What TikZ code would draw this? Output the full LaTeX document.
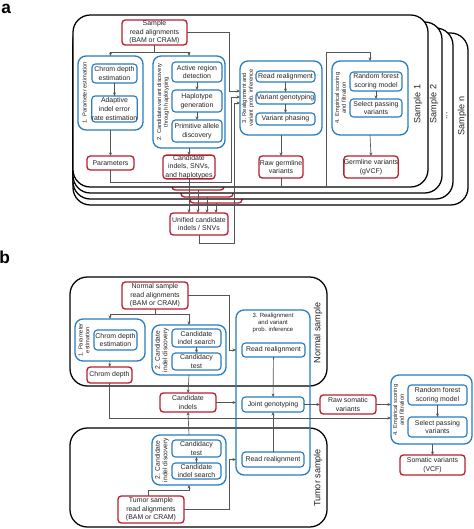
\documentclass[tikz,border=0pt]{standalone}
\usepackage{fontspec}
\setmainfont{Liberation Sans}
\usetikzlibrary{arrows.meta}
\definecolor{redc}{RGB}{185,32,48}
\definecolor{bluec}{RGB}{40,125,190}
\definecolor{connc}{RGB}{85,85,85}
\definecolor{txtc}{RGB}{35,35,35}
\newcommand\dbox[7]{\node[#1, inner sep=0pt, outer sep=0pt, minimum width={(#5-#3)*0.75pt}, minimum height={(#6-#4)*0.75pt}] (#2) at ({(#3+#5)/2},{(#4+#6)/2}) {#7};}
\tikzset{
 txt/.style={font=\fontsize{5.2}{6.5}\selectfont, text=txtc, align=center},
 redb/.style={txt, draw=redc, line width=1pt, rounded corners=2.5pt, fill=white},
 bluo/.style={draw=bluec, line width=1pt, rounded corners=6pt},
 blui/.style={txt, draw=bluec, line width=0.85pt, rounded corners=2.5pt, fill=white},
 frm/.style={draw=black, line width=0.95pt, rounded corners=13pt, fill=white},
 conn/.style={draw=connc, line width=0.5pt},
 arr/.style={conn, -{Stealth[length=2.6pt,width=2.2pt]}},
 side/.style={font=\fontsize{4.3}{5}\selectfont, text=txtc, align=center, rotate=90},
 smp/.style={font=\fontsize{6.8}{7}\selectfont, text=txtc, rotate=90},
 plabel/.style={font=\fontsize{13}{13}\selectfont\bfseries, anchor=base west, inner sep=0pt},
}
\begin{document}
\begin{tikzpicture}[x=0.75pt,y=-0.75pt]
\useasboundingbox (0,0) rectangle (474,529);
% ---------------- panel a ----------------
\node[plabel] (la) at (1,13) {a};
% stacked sample frames (back to front)
\dbox{frm}{fn}{73}{33}{468}{205}{}
\dbox{redb}{cand3}{190}{181}{242}{203}{}
\dbox{frm}{fd}{73}{28}{453}{199}{}
\dbox{redb}{cand2}{181}{175}{233}{197}{}
\dbox{frm}{f2}{73}{22}{442}{193}{}
\dbox{redb}{cand1}{172}{168}{224}{190}{}
\dbox{frm}{f1}{73}{15}{428}{187}{}
\node[smp] (ls1) at (418,104) {Sample 1};
\node[smp] (ls2) at (434,104) {Sample 2};
\node[smp] (lsd) at (447,116) {...};
\node[smp] (lsn) at (462,116) {Sample n};
% boxes
\dbox{redb}{sa}{122}{20}{187}{45}{Sample\\read alignments\\(BAM or CRAM)}
\dbox{bluo}{a1}{78}{56}{143}{130}{}
\node[side] (la1) at (84.5,93) {1. Parameter estimation};
\dbox{blui}{cde}{92}{64}{137}{83}{Chrom depth\\estimation}
\dbox{blui}{aie}{92}{96}{137}{122}{Adaptive\\indel error\\rate estimation}
\dbox{bluo}{a2}{153}{56}{225}{148}{}
\node[side] (la2) at (163,102) {2. Candidate variant discovery\\through haplotyping};
\dbox{blui}{ard}{172}{62}{222}{82}{Active region\\detection}
\dbox{blui}{hg}{172}{90}{222}{112}{Haplotype\\generation}
\dbox{blui}{pad}{172}{120}{222}{142}{Primitive allele\\discovery}
\dbox{bluo}{a3}{240}{61}{322}{135}{}
\node[side] (la3) at (248,98) {3. Realignment and\\variant prob. inference};
\dbox{blui}{rr}{256}{71}{315}{82}{Read realignment}
\dbox{blui}{vg}{256}{92}{315}{104}{Variant genotyping}
\dbox{blui}{vp}{256}{113}{315}{125}{Variant phasing}
\dbox{bluo}{a4}{332}{61}{408}{135}{}
\node[side] (la4) at (340.5,98) {4. Empirical scoring\\and filtration};
\dbox{blui}{rf}{350}{72}{402}{91}{Random forest\\scoring model}
\dbox{blui}{sp}{350}{99}{402}{117}{Select passing\\variants}
\dbox{redb}{par}{87}{156}{134}{170}{Parameters}
\dbox{redb}{cand}{163}{156}{215}{178}{Candidate\\indels, SNVs,\\and haplotypes}
\dbox{redb}{raw}{259}{156}{303}{178}{Raw germline\\variants}
\dbox{redb}{germ}{344}{156}{398}{178}{Germline variants\\(gVCF)}
\dbox{redb}{uni}{170}{213}{228}{235}{Unified candidate\\indels / SNVs}
% connectors a
\draw[conn] (sa.south) -- ++(0,7) coordinate (saj);
\draw[arr] (saj) -| (a1.north);
\draw[arr] (saj) -| (a2.north);
\draw[arr] (sa.east) -| (229,91) -- (a3.west |- 0,91);
\draw[arr] (par.south) -- ++(0,12) -| (231,97) -- (a3.west |- 0,97);
\draw[arr] (uni.south) -- ++(0,8) -| (234,103) -- (a3.west |- 0,103);
\draw[arr] (cand.south) -- (uni.north -| cand.south);
\draw[arr] (cand1.south) -- (uni.north -| cand1.south);
\draw[arr] (cand2.south) -- (uni.north -| cand2.south);
\draw[arr] (cand3.south) -- (uni.north -| cand3.south);
\draw[arr] (cde) -- (aie);
\draw[arr] (ard) -- (hg);
\draw[arr] (hg) -- (pad);
\draw[arr] (rr) -- (vg);
\draw[arr] (vg) -- (vp);
\draw[arr] (rf) -- (sp);
\draw[arr] (a1.south) -- (par.north);
\draw[arr] (a2.south) -- (cand.north);
\draw[arr] (a3.south) -- (raw.north);
\draw[arr] (raw.south) -- ++(0,9) -| (326,52) -| (a4.north);
\draw[arr] (a4.south) -- (germ.north);
% ---------------- panel b ----------------
\node[plabel] (lb) at (-1,263) {b};
\dbox{frm}{fnorm}{70}{277}{327}{386}{}
\dbox{frm}{ftum}{70}{428}{327}{527}{}
\node[smp] (lnorm) at (318,333) {Normal sample};
\node[smp] (ltum) at (318,478) {Tumor sample};
\dbox{redb}{nra}{122}{282}{188}{309}{Normal sample\\read alignments\\(BAM or CRAM)}
\dbox{bluo}{b1}{75}{319}{145}{361}{}
\node[side] (lb1) at (84,340) {1. Parameter\\estimation};
\dbox{blui}{bcde}{94}{330}{137}{350}{Chrom depth\\estimation}
\dbox{redb}{cd}{87}{367}{132}{383}{Chrom depth}
\dbox{bluo}{b2}{152}{325}{226}{375}{}
\node[side,font=\fontsize{5}{5.6}\selectfont] (lb2) at (162,350) {2. Candidate\\indel discovery};
\dbox{blui}{ncis}{172}{329}{221}{347}{Candidate\\indel search}
\dbox{blui}{nct}{172}{353}{221}{370}{Candidacy\\test}
\dbox{bluo}{b3}{236}{310}{310}{475}{}
\node[txt,font=\fontsize{4.5}{5.2}\selectfont] (lb3) at (273,323) {3. Realignment\\and variant\\prob. inference};
\dbox{blui}{nrr}{242}{343}{305}{357}{Read realignment}
\dbox{blui}{jg}{242}{397}{304}{412}{Joint genotyping}
\dbox{blui}{trr}{242}{452}{304}{467}{Read realignment}
\dbox{redb}{ci}{160}{393}{216}{412}{Candidate\\indels}
\dbox{bluo}{tb2}{152}{435}{226}{485}{}
\node[side,font=\fontsize{5}{5.6}\selectfont] (ltb2) at (162,460) {2. Candidate\\indel discovery};
\dbox{blui}{tct}{172}{440}{221}{457}{Candidacy\\test}
\dbox{blui}{tcis}{172}{463}{221}{479}{Candidate\\indel search}
\dbox{redb}{tra}{118}{496}{184}{523}{Tumor sample\\read alignments\\(BAM or CRAM)}
\dbox{redb}{rsv}{320}{395}{376}{414}{Raw somatic\\variants}
\dbox{bluo}{b4}{391}{375}{472}{444}{}
\node[side] (lb4) at (398.5,410) {4. Empirical scoring\\and filtration};
\dbox{blui}{brf}{408}{385}{467}{405}{Random forest\\scoring model}
\dbox{blui}{bsp}{408}{417}{467}{437}{Select passing\\variants}
\dbox{redb}{sv}{400}{455}{465}{475}{Somatic variants\\(VCF)}
% connectors b
\draw[conn] (nra.south) -- ++(0,5) coordinate (nraj);
\draw[arr] (nraj) -| (b1.north);
\draw[arr] (nraj) -| (b2.north);
\draw[arr] (nra.east) -| (229,350) -- (b3.west |- nrr.west);
\draw[arr] (b1.south) -- (cd.north);
\draw[arr] (ncis) -- (nct);
\draw[arr] (b2.south) -- (ci.north);
\draw[arr] (tb2.north) -- (ci.south);
\draw[arr] (tcis) -- (tct);
\draw[arr] (ci.east) -- (b3.west |- ci.east);
\draw[arr] (cd.south) |- (b4.west |- 0,418);
\draw[arr] (tra.east) -| (229,459.5) -- (b3.west |- trr.west);
\draw[conn] (tra.north) ++(-3,0) coordinate (trat) -- ++(0,-6) coordinate (traj);
\draw[arr] (traj) -| (tb2.south);
\draw[arr] (nrr) -- (jg);
\draw[arr] (trr) -- (jg);
\draw[arr] (jg) -- (rsv);
\draw[arr] (rsv) -- (b4.west |- rsv.east);
\draw[arr] (brf) -- (bsp);
\draw[arr] (b4.south -| sv.north) -- (sv.north);
\end{tikzpicture}
\end{document}
